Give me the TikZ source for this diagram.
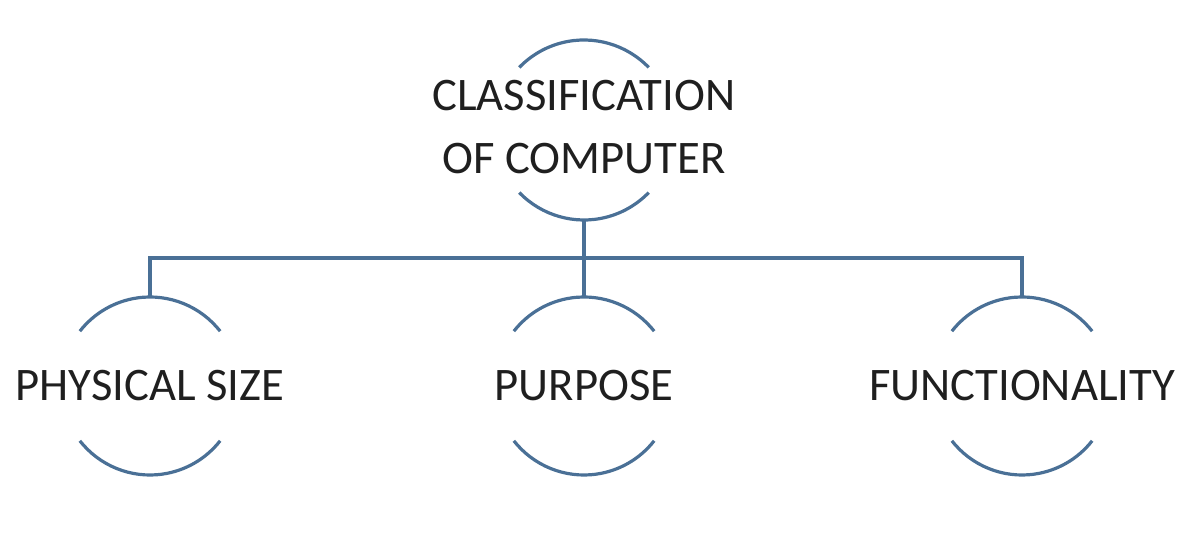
\documentclass[tikz,border=0pt]{standalone}
\usepackage{fontspec}
\setmainfont{Carlito}
\begin{document}
\begin{tikzpicture}[x=0.75pt,y=0.75pt,
  ln/.style={draw={rgb,255:red,74;green,112;blue,150},line width=2.4pt},
  lbl/.style={inner sep=0pt,align=center,font=\fontsize{35}{47}\selectfont,text=black!88}]
\useasboundingbox (0,0) rectangle (1202,535);
\node[lbl] (top) at (584,408) {CLASSIFICATION\\OF COMPUTER};
\node[lbl] (p) at (150,149) {PHYSICAL SIZE};
\node[lbl] (u) at (584,149) {PURPOSE};
\node[lbl] (f) at (1022,149) {FUNCTIONALITY};
\coordinate (topS) at (584,315);
\coordinate (pN) at (150,238);
\coordinate (uN) at (584,238);
\coordinate (fN) at (1022,238);
\coordinate (bus) at (584,277);
\draw[ln] (584,405) ++(44:67.5pt) arc[start angle=44,end angle=136,radius=67.5pt];
\draw[ln] (584,405) ++(-136:67.5pt) arc[start angle=-136,end angle=-44,radius=67.5pt];
\foreach \x in {150,584,1022}{
  \draw[ln] (\x,149) ++(38:66.75pt) arc[start angle=38,end angle=142,radius=66.75pt];
  \draw[ln] (\x,149) ++(-142:66.75pt) arc[start angle=-142,end angle=-38,radius=66.75pt];
}
\draw[ln] (topS) -- (bus);
\draw[ln] (uN) -- (bus);
\draw[ln] (pN) |- (bus) -| (fN);
\end{tikzpicture}
\end{document}
